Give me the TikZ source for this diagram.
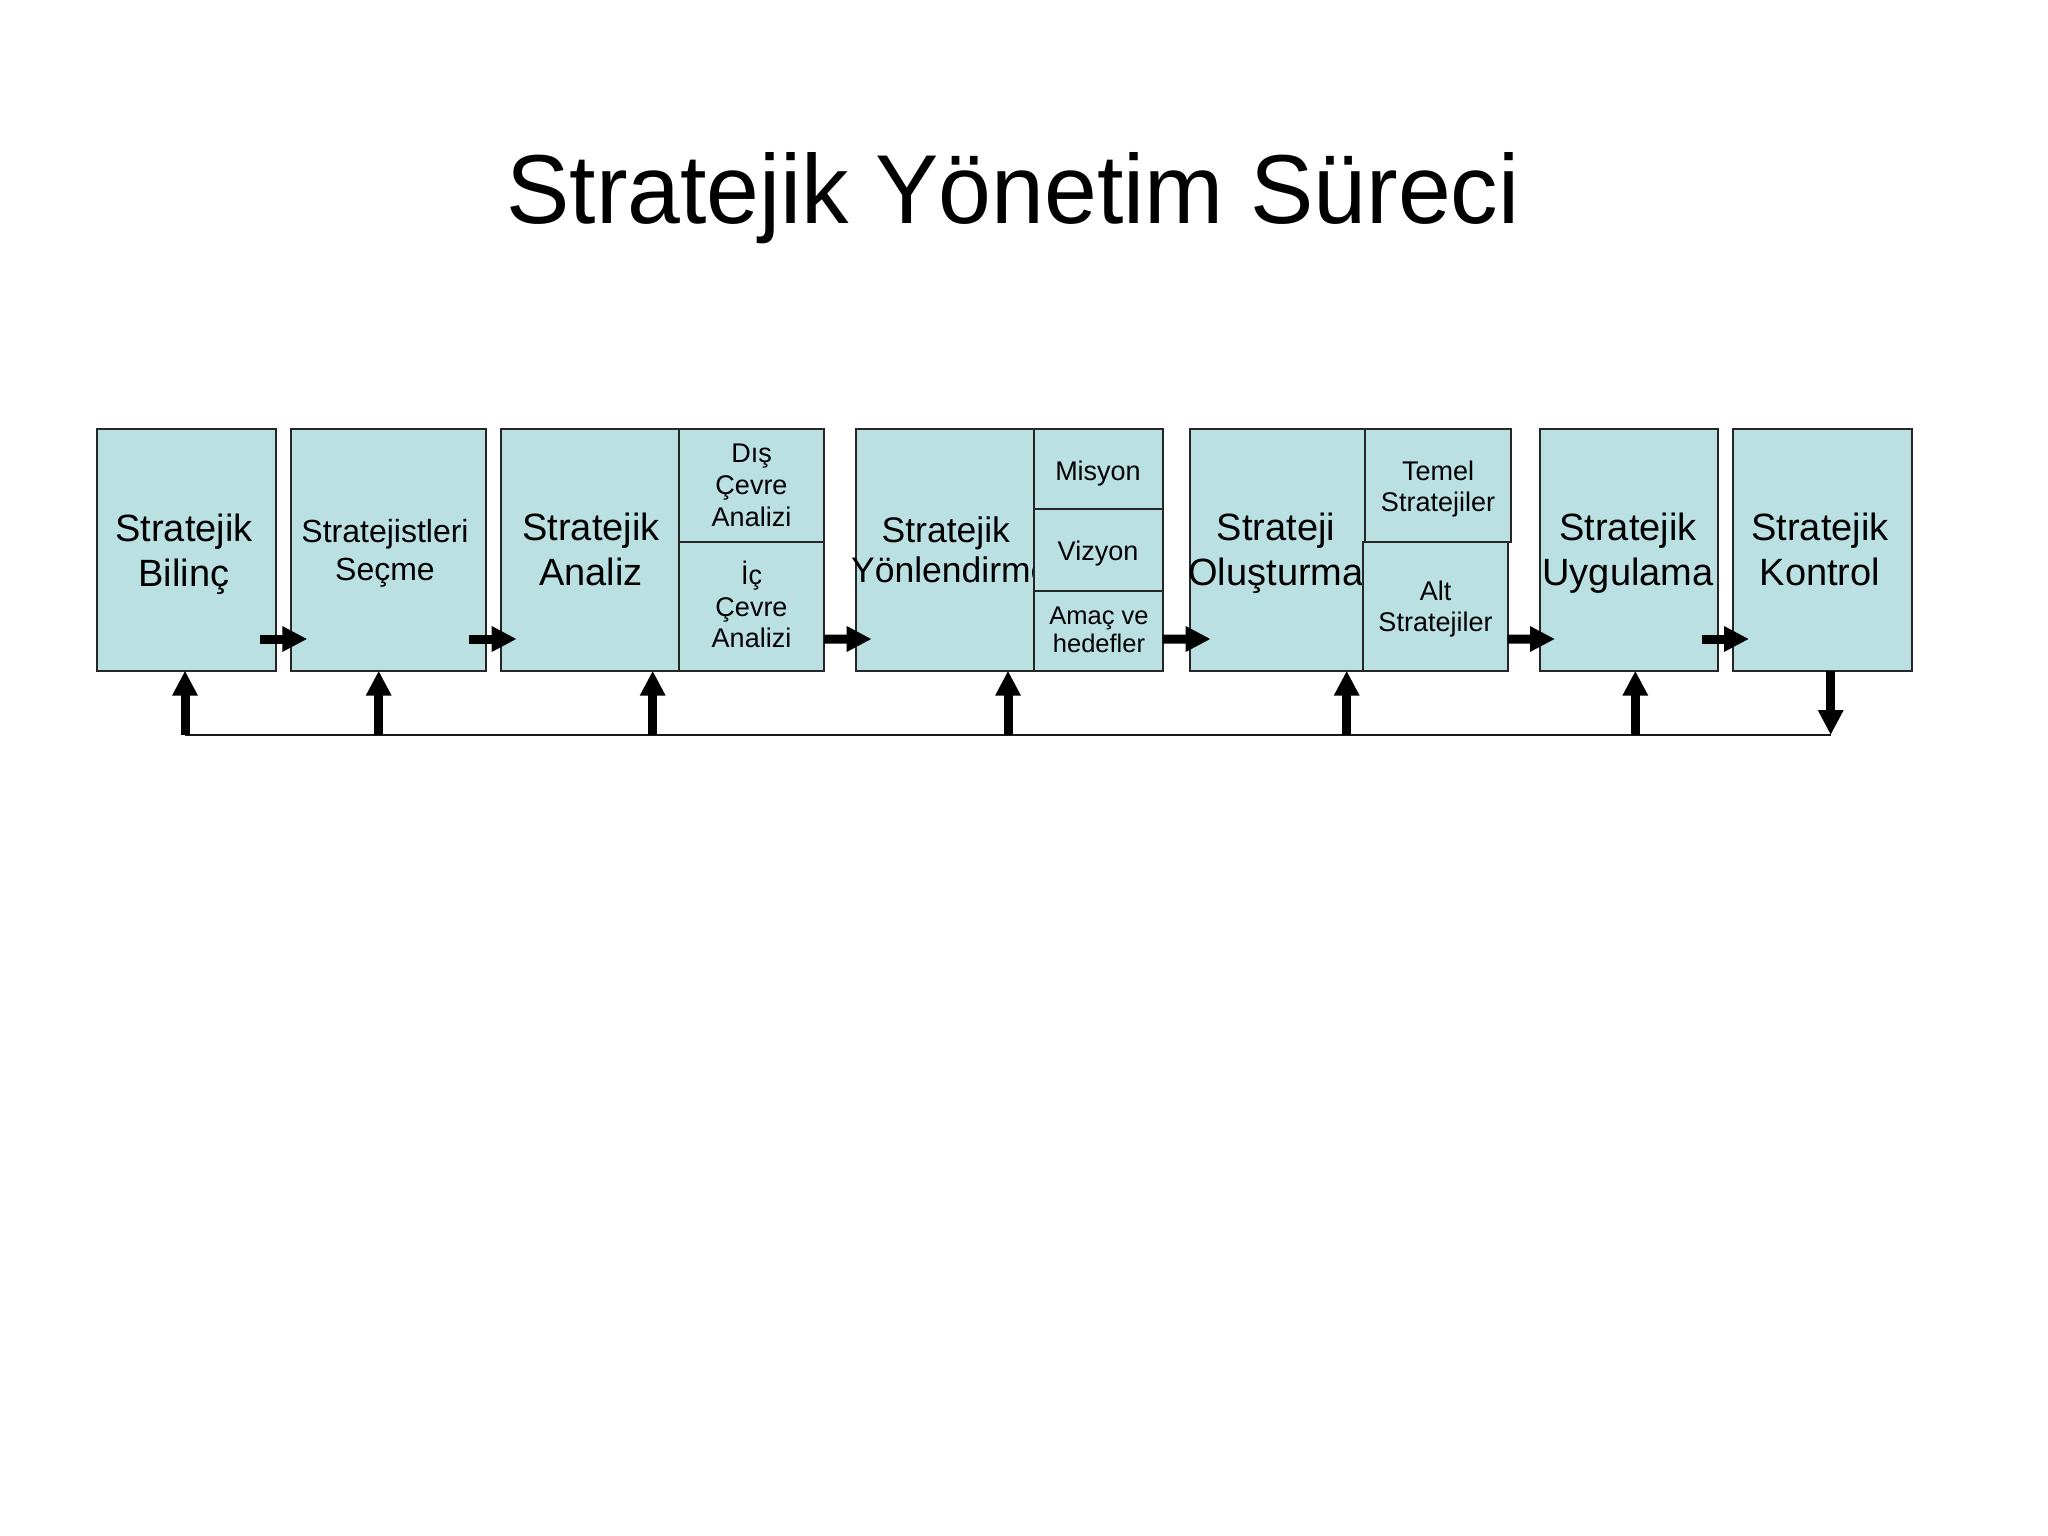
\documentclass[tikz,border=0pt]{standalone}
\usepackage{fontspec}
\setmainfont{Liberation Sans}
\newfontfamily\titlefont[FakeStretch=0.969]{Liberation Sans}
\usetikzlibrary{arrows.meta}
\definecolor{boxc}{RGB}{186,224,226}
\begin{document}
\begin{tikzpicture}[x=1pt,y=-1pt,
  box/.style={draw=black!85, line width=2.2pt, fill=boxc, rectangle, inner sep=0pt, outer sep=0pt, anchor=north west},
  txt/.style={align=center, inner sep=0pt, outer sep=0pt, text=black},
  big/.style={txt, font=\fontsize{38}{45}\selectfont},
  mid/.style={txt, font=\fontsize{32}{37.7}\selectfont},
  yon/.style={txt, font=\fontsize{35.5}{40}\selectfont},
  small/.style={txt, font=\fontsize{27}{31.7}\selectfont},
  tiny/.style={txt, font=\fontsize{25.5}{28.3}\selectfont},
  fat/.style={line width=9pt, -{Triangle[length=25pt,width=24pt]}},
  fb/.style={line width=2.2pt, draw=black!90}
]
\fill[white] (0,0) rectangle (2048,1536);
\useasboundingbox (0,0) rectangle (2048,1536);

% title
\node[anchor=base, inner sep=0pt, font=\titlefont\fontsize{98}{110}\selectfont] (title) at (1013,223.3) {Stratejik Yönetim Süreci};

% boxes
\node[box, minimum width=178.4pt, minimum height=241.7pt] (b1) at (97.3,429) {};
\node[big] (t1) at (184,554) {Stratejik\\Bilinç};

\node[box, minimum width=194.7pt, minimum height=241.7pt] (b2) at (291.3,429) {};
\node[mid] (t2) at (385,553) {Stratejistleri\\Seçme};

\node[box, minimum width=178.3pt, minimum height=241.7pt] (b3) at (500.7,429) {};
\node[big] (t3) at (591,549.6) {Stratejik\\Analiz};
\node[box, minimum width=145pt, minimum height=113.3pt] (b3a) at (679,429) {};
\node[small] (t3a) at (751.5,485.3) {Dış\\Çevre\\Analizi};
\node[box, minimum width=145pt, minimum height=128.4pt] (b3b) at (679,542.3) {};
\node[small] (t3b) at (751.5,604.5) {İç\\Çevre\\Analizi};

\node[box, minimum width=177.7pt, minimum height=241.7pt] (b4) at (856,429) {};
\node[yon] (t4) at (945.8,549.9) {Stratejik\\\hspace*{10pt}Yönlendirme};
\node[box, minimum width=129pt, minimum height=80.3pt] (b4a) at (1033.7,429) {};
\node[small] (t4a) at (1098,473.2) {Misyon};
\node[box, minimum width=129pt, minimum height=81.4pt] (b4b) at (1033.7,509.3) {};
\node[small] (t4b) at (1098,553.2) {Vizyon};
\node[box, minimum width=129pt, minimum height=80pt] (b4c) at (1033.7,590.7) {};
\node[tiny] (t4c) at (1099,630) {Amaç ve\\hedefler};

\node[box, minimum width=175.3pt, minimum height=241.7pt] (b5) at (1190,429) {};
\node[big] (t5) at (1276,553.5) {Strateji\\Oluşturma};
\node[box, minimum width=145.4pt, minimum height=112.7pt] (b5a) at (1365.3,429) {};
\node[small] (t5a) at (1438,489) {Temel\\Stratejiler};
\node[box, minimum width=145pt, minimum height=128.4pt] (b5b) at (1362.7,542.3) {};
\node[small] (t5b) at (1435.5,609) {Alt\\Stratejiler};

\node[box, minimum width=177.7pt, minimum height=241.7pt] (b6) at (1540,429) {};
\node[big] (t6) at (1628,553.5) {Stratejik\\Uygulama};

\node[box, minimum width=178.4pt, minimum height=241.7pt] (b7) at (1733.3,429) {};
\node[big] (t7) at (1820,549.6) {Stratejik\\Kontrol};

% forward arrows
\draw[fat] ([xshift=-15.7pt,yshift=31.7pt]b1.south east) -- ([xshift=16pt,yshift=31.7pt]b2.south west);
\draw[fat] ([xshift=-16.7pt,yshift=31.7pt]b2.south east) -- ([xshift=16pt,yshift=31.7pt]b3.south west);
\draw[fat] ([yshift=31.7pt]b3b.south east) -- ([xshift=15.7pt,yshift=31.7pt]b4.south west);
\draw[fat] ([yshift=31.7pt]b4c.south east) -- ([xshift=20.7pt,yshift=31.7pt]b5.south west);
\draw[fat] ([yshift=31.7pt]b5b.south east) -- ([xshift=15pt,yshift=31.7pt]b6.south west);
\draw[fat] ([xshift=-16pt,yshift=31.7pt]b6.south east) -- ([xshift=15.7pt,yshift=31.7pt]b7.south west);

% feedback loop
\coordinate (f1) at (185,735);
\coordinate (f2) at (378.7,735);
\coordinate (f3) at (652.7,735);
\coordinate (f4) at (1008,735);
\coordinate (f5) at (1346.7,735);
\coordinate (f6) at (1635.3,735);
\coordinate (f7) at (1830.7,735);
\draw[fb] (f1) -- (f7);
\draw[fat] (f1) -- (b1.south -| f1);
\draw[fat] (f2) -- (b2.south -| f2);
\draw[fat] (f3) -- (b3.south -| f3);
\draw[fat] (f4) -- (b4.south -| f4);
\draw[fat] (f5) -- (b5.south -| f5);
\draw[fat] (f6) -- (b6.south -| f6);
\draw[fat] (b7.south -| f7) -- (f7);
\end{tikzpicture}
\end{document}
